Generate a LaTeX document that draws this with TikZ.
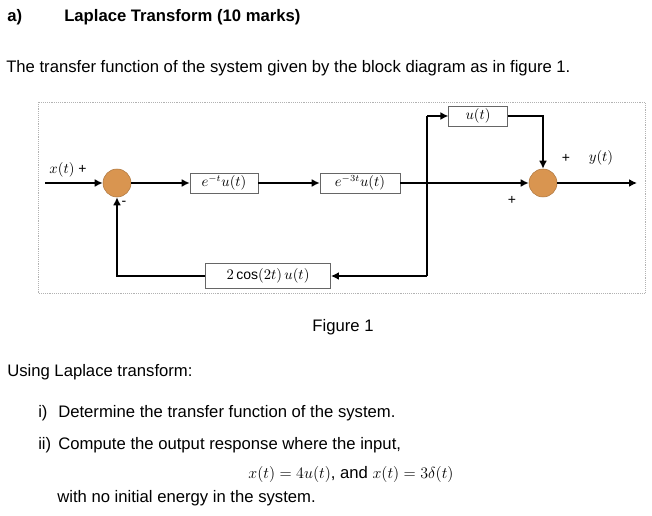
\documentclass[tikz,border=0pt]{standalone}
\usepackage{fontspec}
\setmainfont{Liberation Sans}
\usetikzlibrary{arrows.meta}
\definecolor{sumc}{HTML}{D99550}
\begin{document}
\begin{tikzpicture}[x=0.75pt,y=-0.75pt,
  every node/.style={font=\fontsize{12.5}{14}\selectfont},
  blk/.style={draw=black!60,fill=white,minimum height=14pt,inner sep=2pt,font=\fontsize{10.5}{12}\selectfont},
  sum/.style={circle,fill=sumc,draw=sumc!80!black,minimum size=21pt,inner sep=0pt},
  sig/.style={line width=1.5pt,-{Latex[length=6pt,width=6pt]}},
  ln/.style={line width=1.5pt},
  txt/.style={anchor=west,inner sep=0pt}]
\useasboundingbox (0,0) rectangle (652,516);
\node[txt] (a) at (7,17) {\textbf{a)}};
\node[txt] (t) at (64,17) {\textbf{Laplace Transform (10 marks)}};
\node[txt] (l1) at (6,68) {The transfer function of the system given by the block diagram as in figure 1.};
\draw[black!30,densely dotted] (38,102) rectangle (645,293);
\node[sum] (s1) at (117,183) {};
\node[sum] (s2) at (543,183) {};
\node[blk,minimum width=51pt] (b1) at (224,183) {$e^{-t}u(t)$};
\node[blk,minimum width=60pt] (b2) at (360,183) {$e^{-3t}u(t)$};
\node[blk,minimum width=44pt] (b3) at (478,116) {$u(t)$};
\node[blk,minimum width=94pt,minimum height=19pt] (b4) at (268,276) {$2\cos(2t)\,u(t)$};
\coordinate (in) at (45,183);
\coordinate (out) at (637,183);
\coordinate (br) at (427,183);
\draw[sig] (in) -- (s1);
\draw[sig] (s1) -- (b1);
\draw[sig] (b1) -- (b2);
\draw[sig] (b2) -- (s2);
\draw[sig] (s2) -- (out);
\draw[sig] (br |- b4) -- (b4);
\draw[ln] (br |- b4) -- (427,116);
\draw[sig] (427,116) -- (b3);
\draw[sig] (b3.east) -| (s2);
\draw[sig] (b4.west) -| (s1);
\node (xl) at (68,170) {\fontsize{10.5}{12}\selectfont$x(t)$ +};
\node (ml) at (124,203) {\fontsize{10.5}{12}\selectfont -};
\node (pl1) at (566,158) {\fontsize{10.5}{12}\selectfont +};
\node (pl2) at (512,200) {\fontsize{10.5}{12}\selectfont +};
\node (yl) at (601,158) {\fontsize{10.5}{12}\selectfont$y(t)$};
\node (fig) at (343,327) {Figure 1};
\node[txt] (u) at (7,372) {Using Laplace transform:};
\node[txt] (i1) at (38,413) {i)};
\node[txt] (i2) at (58,413) {Determine the transfer function of the system.};
\node[txt] (j1) at (38,445) {ii)};
\node[txt] (j2) at (58,445) {Compute the output response where the input,};
\node (xx) at (351,474) {$x(t)=4u(t)$, and $x(t)=3\delta(t)$};
\node[txt] (w) at (57,498) {with no initial energy in the system.};
\end{tikzpicture}
\end{document}
